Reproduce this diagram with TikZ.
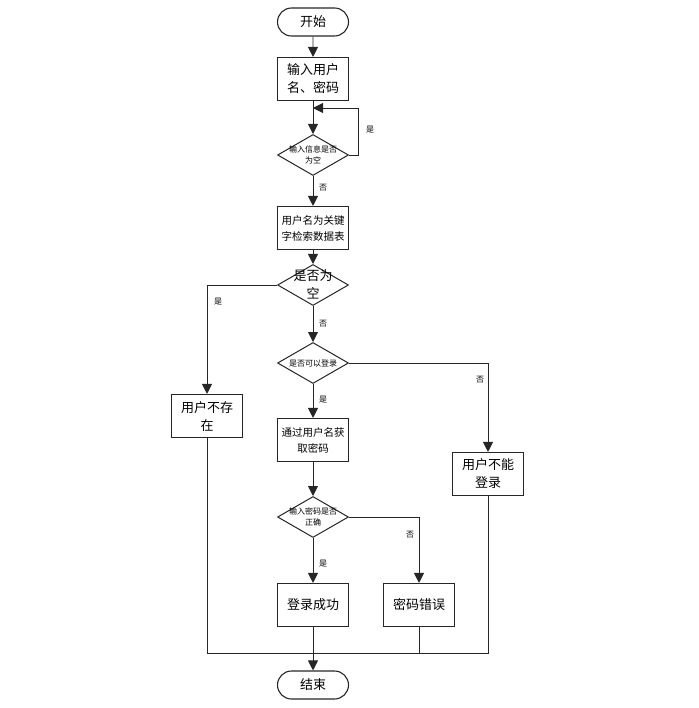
\documentclass[tikz,border=0pt]{standalone}
\usepackage{fontspec}
\newfontfamily\cjk{Noto Sans CJK SC}
\usetikzlibrary{shapes.geometric,shapes.misc,arrows.meta}
\begin{document}
\begin{tikzpicture}[x=1pt,y=-1pt,
  lc/.style={draw=black!85,line width=0.9pt},
  arr/.style={lc,-{Triangle[length=10pt,width=10pt]}},
  term/.style={rounded rectangle,draw=black!85,line width=1.1pt,minimum width=71pt,minimum height=28pt,inner sep=0pt,font=\cjk\fontsize{13}{18}\selectfont},
  procbox/.style={rectangle,draw=black!85,line width=1.1pt,minimum width=71pt,minimum height=43pt,inner sep=0pt,align=center,font=\cjk\fontsize{13}{18}\selectfont},
  smallbox/.style={procbox,font=\cjk\fontsize{10.5}{16}\selectfont},
  dec/.style={diamond,draw=black!85,line width=1pt,minimum width=71pt,minimum height=41pt,inner sep=0pt},
  dtxt/.style={align=center,inner sep=0pt,font=\cjk\fontsize{8}{11}\selectfont},
  lab/.style={inner sep=0pt,font=\cjk\fontsize{8}{10}\selectfont}
]
\useasboundingbox (0,0) rectangle (698,708);
\node[term] (start) at (313,22) {开始};
\node[procbox] (input) at (313,79) {输入用户\\名、密码};
\node[dec] (d1) at (313,155) {};
\node[dtxt] (d1t) at (313,155) {输入信息是否\\为空};
\node[smallbox] (query) at (313,228) {用户名为关键\\字检索数据表};
\node[dec] (d2) at (313,285) {};
\node[dtxt,font=\cjk\fontsize{13}{18}\selectfont] (d2t) at (313,284) {是否为\\空};
\node[dec] (d3) at (313,363) {};
\node[dtxt] (d3t) at (313,363) {是否可以登录};
\node[procbox] (nouser) at (207,416) {用户不存\\在};
\node[smallbox] (getpw) at (313,440) {通过用户名获\\取密码};
\node[procbox] (cant) at (488,474) {用户不能\\登录};
\node[dec] (d4) at (313,517) {};
\node[dtxt] (d4t) at (313,517) {输入密码是否\\正确};
\node[procbox] (ok) at (313,605) {登录成功};
\node[procbox] (pwerr) at (419,605) {密码错误};
\node[term] (end) at (313,685) {结束};

\coordinate (loopR) at (358,108);
\coordinate (loopE) at (313,108);
\coordinate (jm) at (313,653);

\draw[arr] (start) -- (input);
\draw[arr] (input) -- (d1);
\draw[arr] (d1.east) -| (loopR) -- (loopE);
\draw[arr] (d1) -- (query);
\draw[arr] (query) -- (d2);
\draw[arr] (d2.west) -| (nouser);
\draw[arr] (d2) -- (d3);
\draw[arr] (d3.east) -| (cant);
\draw[arr] (d3) -- (getpw);
\draw[arr] (getpw) -- (d4);
\draw[arr] (d4) -- (ok);
\draw[arr] (d4.east) -| (pwerr);
\draw[lc] (nouser.south) |- (jm);
\draw[lc] (cant.south) |- (jm);
\draw[lc] (ok) -- (jm);
\draw[lc] (pwerr.south) -- (pwerr.south|-jm);
\draw[arr] (jm) -- (end);

\node[lab] (l1) at (370,130) {是};
\node[lab] (l2) at (323,188) {否};
\node[lab] (l3) at (218,302) {是};
\node[lab] (l4) at (323,324) {否};
\node[lab] (l5) at (480,380) {否};
\node[lab] (l6) at (323,400) {是};
\node[lab] (l7) at (410,535) {否};
\node[lab] (l8) at (323,564) {是};
\end{tikzpicture}
\end{document}
